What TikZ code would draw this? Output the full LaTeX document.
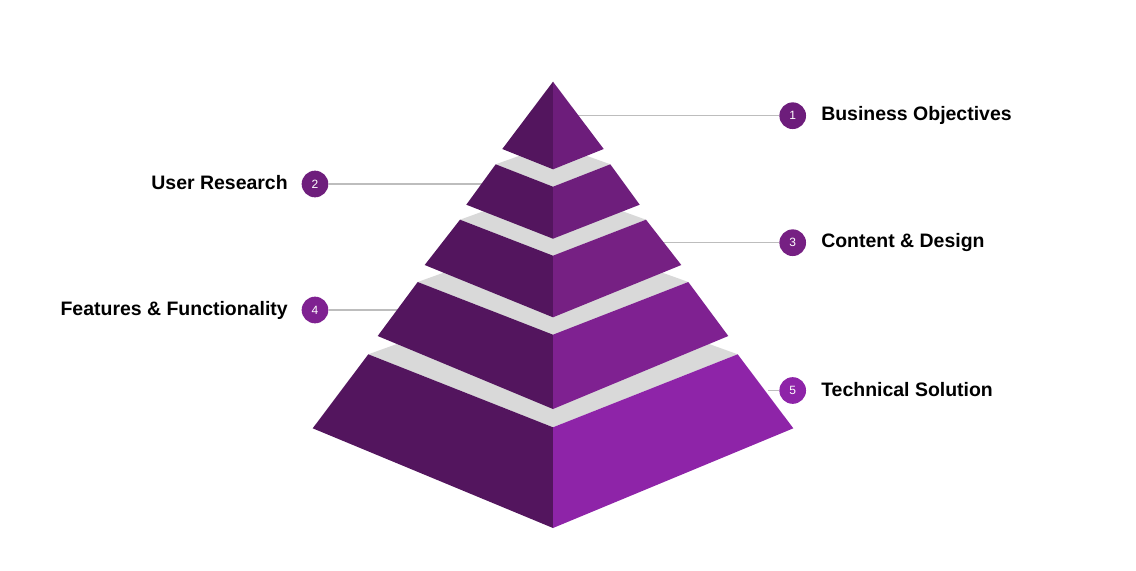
\documentclass[tikz,border=0pt]{standalone}
\usepackage{fontspec}
\setmainfont{Liberation Sans}
\definecolor{leftface}{HTML}{53155E}
\definecolor{rone}{HTML}{6D1D7B}
\definecolor{rtwo}{HTML}{6E1E7C}
\definecolor{rthree}{HTML}{762083}
\definecolor{rfour}{HTML}{7F2191}
\definecolor{rfive}{HTML}{8E24A8}
\definecolor{topface}{HTML}{D9D9D9}
\definecolor{leader}{HTML}{BDBDBD}
\tikzset{
  numdot/.style={circle,minimum size=20pt,inner sep=0pt,text=white,font=\fontsize{9}{10}\selectfont},
  lab/.style={inner sep=0pt,font=\fontsize{14.6}{16}\selectfont\bfseries},
  leadline/.style={draw=leader,line width=1pt},
}
\begin{document}
\begin{tikzpicture}[x=0.75pt,y=-0.75pt]
\useasboundingbox (0,0) rectangle (1136,571);
% circles and labels
\node[numdot,fill=rone]   (c1) at (792.7,115.7) {1};
\node[numdot,fill=rtwo]   (c2) at (315,184) {2};
\node[numdot,fill=rthree] (c3) at (792.7,242.7) {3};
\node[numdot,fill=rfour]  (c4) at (315,310) {4};
\node[numdot,fill=rfive]  (c5) at (792.7,390.5) {5};
\node[lab,anchor=base west] (t1) at (821,120) {Business Objectives};
\node[lab,anchor=base east] (t2) at (288,189.5) {User Research};
\node[lab,anchor=base west] (t3) at (821,247.8) {Content \& Design};
\node[lab,anchor=base east] (t4) at (288,315) {Features \& Functionality};
\node[lab,anchor=base west] (t5) at (821,396) {Technical Solution};
% leader end points (on pyramid edges)
\coordinate (e1) at (575,115.7);
\coordinate (e2) at (484,184);
\coordinate (e3) at (662,242.7);
\coordinate (e4) at (400,310);
\coordinate (e5) at (768,390.5);
\draw[leadline] (c1) -- (e1);
\draw[leadline] (c2) -- (e2);
\draw[leadline] (c3) -- (e3);
\draw[leadline] (c4) -- (e4);
\draw[leadline] (c5) -- (e5);
% level 5
\fill[topface] (368.3,354.3) -- (553,287.8) -- (737.7,354.3) -- (553,427.3) -- cycle;
\fill[leftface] (368.3,354.3) -- (553,427.3) -- (553,528) -- (312.7,428.3) -- cycle;
\fill[rfive] (553,427.3) -- (737.7,354.3) -- (793.3,428.3) -- (553,528) -- cycle;
% level 4
\fill[topface] (417.7,282) -- (553,233.3) -- (688.3,282) -- (553,334.7) -- cycle;
\fill[leftface] (417.7,282) -- (553,334.7) -- (553,409) -- (377.7,336) -- cycle;
\fill[rfour] (553,334.7) -- (688.3,282) -- (728.3,336) -- (553,409) -- cycle;
% level 3
\fill[topface] (460,219.7) -- (553,186.2) -- (646,219.7) -- (553,255.7) -- cycle;
\fill[leftface] (460,219.7) -- (553,255.7) -- (553,317.3) -- (424.7,265) -- cycle;
\fill[rthree] (553,255.7) -- (646,219.7) -- (681.3,265) -- (553,317.3) -- cycle;
% level 2
\fill[topface] (495.7,164.3) -- (553,143.7) -- (610.3,164.3) -- (553,186.7) -- cycle;
\fill[leftface] (495.7,164.3) -- (553,186.7) -- (553,238.7) -- (466.3,204.7) -- cycle;
\fill[rtwo] (553,186.7) -- (610.3,164.3) -- (639.7,204.7) -- (553,238.7) -- cycle;
% level 1
\fill[leftface] (553,81.7) -- (553,169.3) -- (502.3,149) -- cycle;
\fill[rone] (553,81.7) -- (603.7,149) -- (553,169.3) -- cycle;
\end{tikzpicture}
\end{document}
